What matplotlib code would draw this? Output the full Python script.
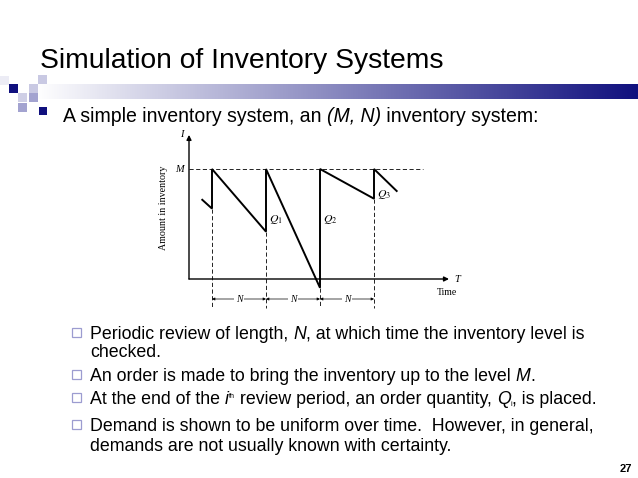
import numpy as np
import matplotlib.pyplot as plt
from matplotlib.patches import Rectangle

plt.rcParams['font.family'] = ['Liberation Sans', 'DejaVu Sans']

# slide text: each line is a list of (text, style, size factor, baseline shift px)
title = 'Simulation of Inventory Systems'
subtitle = [('A simple inventory system, an ', 'normal', 1, 0),
            ('(M, N)', 'italic', 1, 0),
            (' inventory system:', 'normal', 1, 0)]
bullets = [
    [[('Periodic review of length, ', 'normal', 1, 0), ('N', 'italic', 1, 0),
      (', at which time the inventory level is', 'normal', 1, 0)],
     [('checked.', 'normal', 1, 0)]],
    [[('An order is made to bring the inventory up to the level ', 'normal', 1, 0),
      ('M', 'italic', 1, 0), ('.', 'normal', 1, 0)]],
    [[('At the end of the ', 'normal', 1, 0), ('i', 'italic', 1, 0), ('th', 'normal', 0.4, 6),
      (' review period, an order quantity, ', 'normal', 1, 0), ('Q', 'italic', 1, 0),
      ('i', 'normal', 0.4, -2), (', is placed.', 'normal', 1, 0)]],
    [[('Demand is shown to be uniform over time.  However, in general,', 'normal', 1, 0)],
     [('demands are not usually known with certainty.', 'normal', 1, 0)]],
]
page_no = '27'

# chart data (time in units of N, inventory with M = 100)
M_level = 100
review_times = [1, 2, 3, 4]
level_before_order = [64, 43, -8, 73]
start_point = (0.82, 72)
end_point = (4.42, 80)
q_labels = ['$Q_1$', '$Q_2$', '$Q_3$']
q_label_levels = [54, 54, 77]

W, H = 638, 478
navy = '#10107e'
fig = plt.figure(figsize=(W / 100, H / 100), dpi=100)
bg = fig.add_axes([0, 0, 1, 1])
bg.set_xlim(0, W)
bg.set_ylim(H, 0)
bg.axis('off')
renderer = fig.canvas.get_renderer()


def rich_line(x, y, parts, size):
    for txt, style, scale, dy in parts:
        t = bg.text(x, y - dy, txt, fontsize=size * scale, style=style,
                    ha='left', va='baseline')
        x += t.get_window_extent(renderer).width


# gradient header bar
grad = np.linspace(0, 1, 400)
white = np.array([1.0, 1.0, 1.0])
dark = np.array([16, 16, 126]) / 255
img = white[None, :] * (1 - grad[:, None]) + dark[None, :] * grad[:, None]
bg.imshow(img[None, :, :], extent=[36, W, 99, 84], aspect='auto', zorder=1)

# decorative squares
squares = [
    (0, 76, '#ececf5'), (9, 84, navy), (29, 84, '#c9c9e3'), (38, 75, '#c9c9e3'),
    (29, 93, '#a3a3d0'), (18, 93, '#cfcfe6'), (18, 103, '#a3a3d0'),
]
for x, y, c in squares:
    bg.add_patch(Rectangle((x, y), 9, 9, facecolor=c, edgecolor='none', zorder=2))
bg.add_patch(Rectangle((39, 107), 8, 8, facecolor=navy, edgecolor='none', zorder=2))

bg.text(40, 68, title, fontsize=20.3, va='baseline', ha='left')
rich_line(63, 122, subtitle, 14.05)

line_y = [[339, 357], [381], [404], [431, 451]]
for lines, ys in zip(bullets, line_y):
    bg.add_patch(Rectangle((72, ys[0] - 11), 8.5, 8.5, facecolor='white',
                           edgecolor='#9c9cd0', lw=0.9, zorder=2))
    for parts, y in zip(lines, ys):
        rich_line(90, y, parts, 12.8)
bg.text(632, 472, page_no, fontsize=8, fontweight='bold', ha='right', va='baseline')

# inventory chart
ax = fig.add_axes([150 / W, (H - 315) / H, 320 / W, 190 / H])
t0 = 1 - 23 / 54
ax.set_xlim(t0 - 39 / 54, t0 + 281 / 54)
ax.set_ylim((279 - 315) / 1.1, (279 - 125) / 1.1)
ax.axis('off')

xs = [start_point[0]]
ys = [start_point[1]]
for r, lv in zip(review_times, level_before_order):
    xs += [r, r]
    ys += [lv, M_level]
xs.append(end_point[0])
ys.append(end_point[1])
ax.plot(xs, ys, color='black', lw=1.4, solid_joinstyle='miter')

bottom = (279 - 308) / 1.1
for r, lv in zip(review_times, level_before_order):
    ax.plot([r, r], [lv, bottom], color='black', lw=0.6, ls=(0, (5, 3)))
ax.plot([t0, t0 + 234 / 54], [M_level, M_level], color='black', lw=0.6, ls=(0, (5, 3)))

arrow = dict(arrowstyle='-|>', lw=1.0, color='black', mutation_scale=7, shrinkA=0, shrinkB=0)
ax.annotate('', xy=(t0, 131), xytext=(t0, 0), arrowprops=arrow)
ax.annotate('', xy=(t0 + 260 / 54, 0), xytext=(t0, 0), arrowprops=arrow)

serif = ['Liberation Serif', 'DejaVu Serif']
ax.text(t0 - 0.13, 131, 'I', family=serif, style='italic', fontsize=7.5, ha='center', va='center')
ax.text(t0 - 0.1, M_level, 'M', family=serif, style='italic', fontsize=7.5, ha='right', va='center')
ax.text(t0 + 265 / 54, 0, 'T', family=serif, style='italic', fontsize=7.5, ha='left', va='center')
ax.text(t0 + 258 / 54, -12, 'Time', family=serif, fontsize=7, ha='center', va='center')
ax.text(t0 - 25 / 54, 65, 'Amount in inventory', family=serif, fontsize=7.2,
        rotation=90, ha='center', va='center')
for r, lab, lv in zip(review_times[1:], q_labels, q_label_levels):
    ax.text(r + 0.06, lv, lab, fontsize=8.5, math_fontfamily='stix', ha='left', va='center')

ny = (279 - 299) / 1.1
for a, b in zip(review_times[:-1], review_times[1:]):
    ax.annotate('', xy=(a, ny), xytext=(b, ny),
                arrowprops=dict(arrowstyle='<|-|>', lw=0.5, color='black',
                                mutation_scale=4, shrinkA=0, shrinkB=0))
    ax.text((a + b) / 2, ny, 'N', family=serif, style='italic', fontsize=7,
            ha='center', va='center',
            bbox=dict(facecolor='white', edgecolor='none', pad=1))

fig.savefig('out.png', dpi=100)
